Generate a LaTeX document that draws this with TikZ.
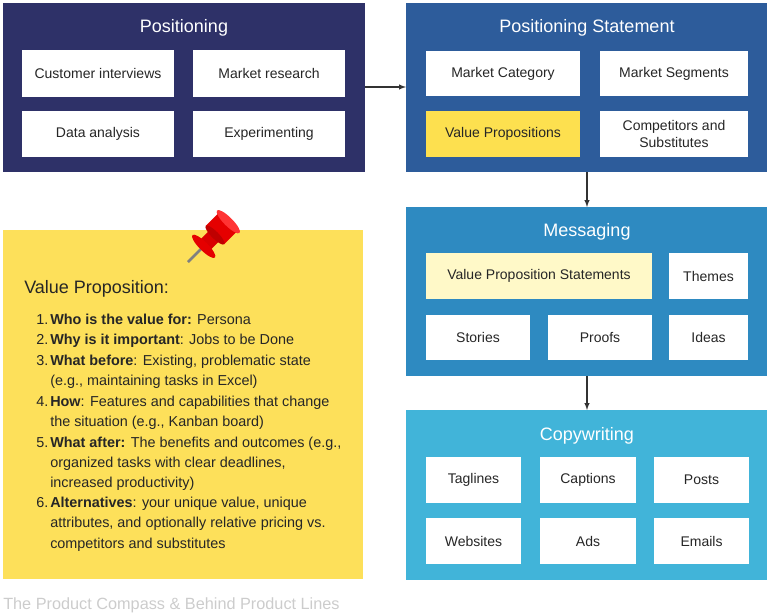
\documentclass[tikz,border=0pt]{standalone}
\usepackage{fontspec}
\setmainfont{Liberation Sans}
\begin{document}
\begin{tikzpicture}[x=0.75pt,y=-0.75pt,
  wbox/.style={font=\fontsize{10.5}{12.5}\selectfont,text=black!85,align=center},
  ttl/.style={text=white,font=\fontsize{13.5}{16}\selectfont},
  li/.style={anchor=base west,inner sep=0,font=\fontsize{10.8}{13}\selectfont,text=black!85},
  arr/.style={-latex,thick,draw=black!80}]
\useasboundingbox (0,0) rectangle (772,615);
\definecolor{navy}{HTML}{2E3168}
\definecolor{blueA}{HTML}{2D5C9B}
\definecolor{blueB}{HTML}{2E8AC1}
\definecolor{blueC}{HTML}{41B4D9}
\definecolor{note}{HTML}{FDE05A}
\definecolor{vp}{HTML}{FDE04F}
\definecolor{vps}{HTML}{FFF9C8}
% panels
\fill[navy] (3,3) rectangle (365,172);
\node[ttl] (t1) at (184,28) {Positioning};
\fill[blueA] (406,3) rectangle (767,172);
\node[ttl] (t2) at (587,28) {Positioning Statement};
\fill[blueB] (406,207) rectangle (767,376);
\node[ttl] (t3) at (587,232) {Messaging};
\fill[blueC] (406,410) rectangle (767,580);
\node[ttl] (t4) at (587,436) {Copywriting};
\coordinate (posR) at (365,87); \coordinate (psL) at (406,87);
\coordinate (psB) at (587,172); \coordinate (msT) at (587,207);
\coordinate (msB) at (587,376); \coordinate (cwT) at (587,410);
\draw[arr] (posR) -- (psL);
\draw[arr] (psB) -- (msT);
\draw[arr] (msB) -- (cwT);
% boxes
\newcommand{\bx}[6]{\path[fill=#6] (#1,#2) rectangle (#3,#4); \node[wbox] at ({(#1+#3)/2},{(#2+#4)/2}) {#5};}
\bx{22}{50}{174}{97}{Customer interviews}{white}
\bx{193}{50}{345}{97}{Market research}{white}
\bx{22}{111}{174}{157}{Data analysis}{white}
\bx{193}{111}{345}{157}{Experimenting}{white}
\bx{426}{51}{580}{96}{Market Category}{white}
\bx{600}{51}{748}{96}{Market Segments}{white}
\bx{426}{111}{580}{157}{Value Propositions}{vp}
\bx{600}{111}{748}{157}{Competitors and\\Substitutes}{white}
\bx{426}{253}{652}{299}{Value Proposition Statements}{vps}
\bx{669}{253}{748}{299}{Themes}{white}
\bx{426}{315}{530}{360}{Stories}{white}
\bx{548}{315}{652}{360}{Proofs}{white}
\bx{669}{315}{748}{360}{Ideas}{white}
\bx{426}{457}{521}{503}{Taglines}{white}
\bx{540}{457}{636}{503}{Captions}{white}
\bx{654}{457}{749}{503}{Posts}{white}
\bx{426}{518}{521}{564}{Websites}{white}
\bx{540}{518}{636}{564}{Ads}{white}
\bx{654}{518}{749}{564}{Emails}{white}
% note
\fill[note] (3,230) rectangle (363,579);
\node[anchor=base west,inner sep=0,font=\fontsize{13.5}{16}\selectfont,text=black!85] at (24,293) {Value Proposition:};
\newcommand{\lstl}[3]{\node[li] at (#1,#2) {#3};}
\lstl{36}{324}{1.}\lstl{50}{324}{\textbf{Who is the value for:} Persona}
\lstl{36}{344}{2.}\lstl{50}{344}{\textbf{Why is it important}: Jobs to be Done}
\lstl{36}{365}{3.}\lstl{50}{365}{\textbf{What before}: Existing, problematic state}
\lstl{50}{385}{(e.g., maintaining tasks in Excel)}
\lstl{36}{406}{4.}\lstl{50}{406}{\textbf{How}: Features and capabilities that change}
\lstl{50}{426}{the situation (e.g., Kanban board)}
\lstl{36}{447}{5.}\lstl{50}{447}{\textbf{What after:} The benefits and outcomes (e.g.,}
\lstl{50}{467}{organized tasks with clear deadlines,}
\lstl{50}{487}{increased productivity)}
\lstl{36}{507}{6.}\lstl{50}{507}{\textbf{Alternatives}: your unique value, unique}
\lstl{50}{527}{attributes, and optionally relative pricing vs.}
\lstl{50}{548}{competitors and substitutes}
% pin
\draw[gray,line width=2pt] (188,262) -- (202,248);
\begin{scope}[shift={(216,234)},rotate=45,scale=1.45]
\fill[red!85!black] (-12,-5) rectangle (10,5);
\fill[red!90!black] (-1,-9) rectangle (12,9);
\fill[red!75!black] (-1,0) ellipse (2.5 and 9);
\fill[red!80!white] (12,0) ellipse (3 and 11);
\fill[red!90!black] (-12,0) ellipse (3 and 11);
\end{scope}
\node[anchor=base west,inner sep=0,font=\fontsize{12.2}{14}\selectfont,text=black!20] at (3,609) {The Product Compass \& Behind Product Lines};
\end{tikzpicture}
\end{document}
